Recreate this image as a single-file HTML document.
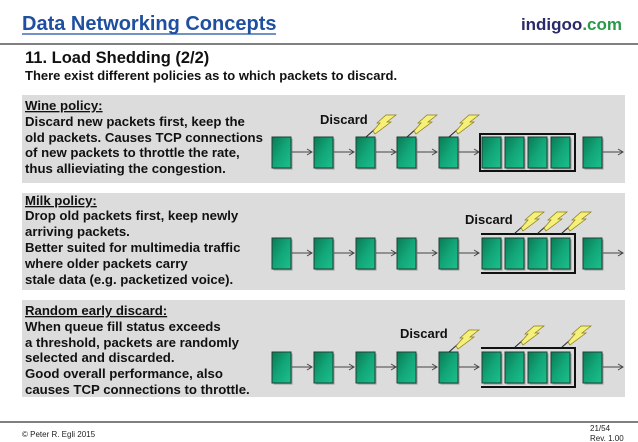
<!DOCTYPE html>
<html><head><meta charset="utf-8"><style>
html,body{margin:0;padding:0;background:#fff;}
svg{display:block;font-family:"Liberation Sans",Arial,sans-serif;}
</style></head><body>
<svg width="638" height="442" viewBox="0 0 638 442" xmlns="http://www.w3.org/2000/svg">
<defs>
<linearGradient id="pg" x1="0" y1="0" x2="1" y2="1">
<stop offset="0" stop-color="#0a7a55"/><stop offset="0.5" stop-color="#12a678"/><stop offset="1" stop-color="#1cc08c"/>
</linearGradient>
<g id="pk"><rect x="1.5" y="1.5" width="19" height="31" fill="#555" opacity="0.5"/><rect x="0" y="0" width="19" height="31" fill="url(#pg)" stroke="#1f3f33" stroke-width="1"/></g>
<g id="ar"><line x1="0" y1="0" x2="19" y2="0" stroke="#444" stroke-width="1"/><path d="M15,-3 L20,0 L15,3" fill="none" stroke="#444" stroke-width="1"/></g>
<g id="bt"><line x1="0" y1="0" x2="9" y2="-8" stroke="#222" stroke-width="1"/><polygon points="7,-6 14,-14 11,-14 20,-22 30,-22 21,-15 25,-15 9,-3" fill="#f4f07a" stroke="#8a7a10" stroke-width="0.7"/></g>
</defs>
<text x="22" y="30" font-size="20" font-weight="bold" fill="#1f4fa0">Data Networking Concepts</text>
<line x1="22" y1="34" x2="276" y2="34" stroke="#1f4fa0" stroke-width="1.3"/>
<text x="622" y="30" font-size="17" font-weight="bold" text-anchor="end" fill="#2a2a6a">indigoo<tspan fill="#2a9a4a">.com</tspan></text>
<line x1="0" y1="44" x2="638" y2="44" stroke="#000" stroke-width="1"/>
<text x="25" y="63" font-size="16.5" font-weight="bold" fill="#111">11. Load Shedding (2/2)</text>
<text x="25" y="80" font-size="13" font-weight="bold" fill="#111">There exist different policies as to which packets to discard.</text>

<rect x="22" y="95" width="603" height="88" fill="#dcdcdc"/>
<rect x="22" y="193" width="603" height="97" fill="#dcdcdc"/>
<rect x="22" y="300" width="603" height="97" fill="#dcdcdc"/>

<g font-size="13.2" font-weight="bold" fill="#111">
<text x="25" y="110" text-decoration="underline">Wine policy:</text>
<text x="25" y="126">Discard new packets first, keep the</text>
<text x="25" y="142">old packets. Causes TCP connections</text>
<text x="25" y="157">of new packets to throttle the rate,</text>
<text x="25" y="173">thus allieviating the congestion.</text>

<text x="25" y="205" text-decoration="underline">Milk policy:</text>
<text x="25" y="220">Drop old packets first, keep newly</text>
<text x="25" y="236">arriving packets.</text>
<text x="25" y="252">Better suited for multimedia traffic</text>
<text x="25" y="268">where older packets carry</text>
<text x="25" y="284">stale data (e.g. packetized voice).</text>

<text x="25" y="315" text-decoration="underline">Random early discard:</text>
<text x="25" y="331">When queue fill status exceeds</text>
<text x="25" y="347">a threshold, packets are randomly</text>
<text x="25" y="362">selected and discarded.</text>
<text x="25" y="378">Good overall performance, also</text>
<text x="25" y="394">causes TCP connections to throttle.</text>
</g>
<g font-size="13" font-weight="bold" fill="#111">
<text x="320" y="124">Discard</text>
<text x="465" y="224">Discard</text>
<text x="400" y="338">Discard</text>
</g>

<!-- row 1 -->
<g transform="translate(0,137)">
<use href="#pk" x="272"/><use href="#ar" x="292" y="15"/>
<use href="#pk" x="314"/><use href="#ar" x="334" y="15"/>
<use href="#pk" x="356"/><use href="#ar" x="376" y="15"/>
<use href="#pk" x="397"/><use href="#ar" x="417" y="15"/>
<use href="#pk" x="439"/><use href="#ar" x="459" y="15"/>
<rect x="480" y="-3" width="95" height="37" fill="none" stroke="#111" stroke-width="2"/>
<use href="#pk" x="482"/><use href="#pk" x="505"/><use href="#pk" x="528"/><use href="#pk" x="551"/>
<use href="#pk" x="583"/><use href="#ar" x="603" y="15"/>
<use href="#bt" x="366" y="0"/><use href="#bt" x="407" y="0"/><use href="#bt" x="449" y="0"/>
</g>
<!-- row 2 -->
<g transform="translate(0,238)">
<use href="#pk" x="272"/><use href="#ar" x="292" y="15"/>
<use href="#pk" x="314"/><use href="#ar" x="334" y="15"/>
<use href="#pk" x="356"/><use href="#ar" x="376" y="15"/>
<use href="#pk" x="397"/><use href="#ar" x="417" y="15"/>
<use href="#pk" x="439"/><use href="#ar" x="459" y="15"/>
<path d="M481,-4 H575 V35 H481" fill="none" stroke="#111" stroke-width="2"/>
<use href="#pk" x="482"/><use href="#pk" x="505"/><use href="#pk" x="528"/><use href="#pk" x="551"/>
<use href="#pk" x="583"/><use href="#ar" x="603" y="15"/>
<use href="#bt" x="514" y="-4"/><use href="#bt" x="537" y="-4"/><use href="#bt" x="561" y="-4"/>
</g>
<!-- row 3 -->
<g transform="translate(0,352)">
<use href="#pk" x="272"/><use href="#ar" x="292" y="15"/>
<use href="#pk" x="314"/><use href="#ar" x="334" y="15"/>
<use href="#pk" x="356"/><use href="#ar" x="376" y="15"/>
<use href="#pk" x="397"/><use href="#ar" x="417" y="15"/>
<use href="#pk" x="439"/><use href="#ar" x="459" y="15"/>
<path d="M481,-4 H575 V35 H481" fill="none" stroke="#111" stroke-width="2"/>
<use href="#pk" x="482"/><use href="#pk" x="505"/><use href="#pk" x="528"/><use href="#pk" x="551"/>
<use href="#pk" x="583"/><use href="#ar" x="603" y="15"/>
<use href="#bt" x="449" y="0"/><use href="#bt" x="514" y="-4"/><use href="#bt" x="561" y="-4"/>
</g>

<line x1="0" y1="422" x2="638" y2="422" stroke="#000" stroke-width="1"/>
<text x="22" y="437" font-size="8" fill="#222">© Peter R. Egli 2015</text>
<text x="590" y="431" font-size="8" fill="#222">21/54</text>
<text x="590" y="441" font-size="8" fill="#222">Rev. 1.00</text>
</svg>
</body></html>
